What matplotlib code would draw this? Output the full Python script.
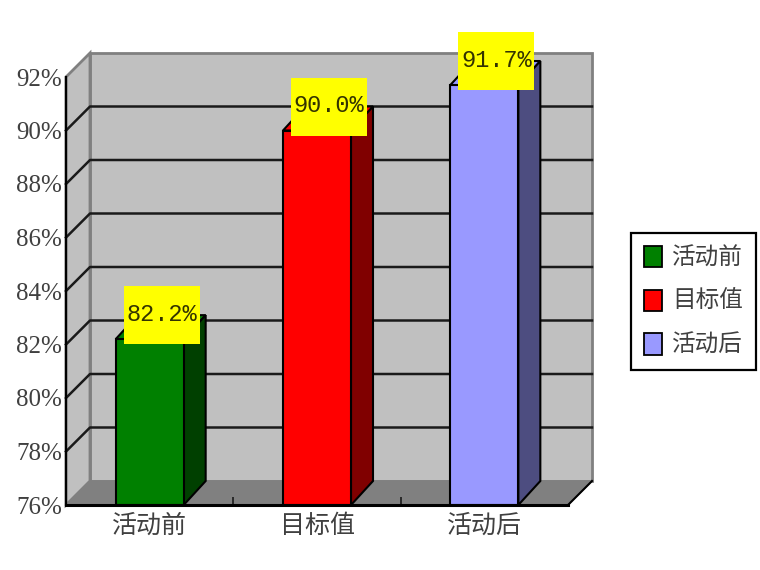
import matplotlib
matplotlib.use('Agg')
import matplotlib.pyplot as plt
from matplotlib.patches import Patch, Polygon, Rectangle

categories = ['活动前', '目标值', '活动后']
values = [82.2, 90.0, 91.7]
value_labels = ['82.2%', '90.0%', '91.7%']
y_ticks = [76, 78, 80, 82, 84, 86, 88, 90, 92]
front_colors = ['#008000', '#FF0000', '#9999FF']
side_colors = ['#004000', '#800000', '#4D4D80']

W, H = 760, 570
LEFT, RIGHT, TOP, BOTTOM = 66, 568, 77, 505
YMIN, YMAX = y_ticks[0], y_ticks[-1]

# one data unit in pixels
X_SCALE = (RIGHT - LEFT) / len(categories)
Y_SCALE = (BOTTOM - TOP) / (YMAX - YMIN)


def px_x(p):
    return p / X_SCALE


def px_y(p):
    return p / Y_SCALE


plt.rcParams['font.family'] = ['Liberation Serif', 'Noto Sans CJK SC']
fig = plt.figure(figsize=(W / 100, H / 100), dpi=100, facecolor='white')
ax = fig.add_axes([LEFT / W, 1 - BOTTOM / H, (RIGHT - LEFT) / W, (BOTTOM - TOP) / H])
ax.set_xlim(0, len(categories))
ax.set_ylim(YMIN, YMAX)
ax.patch.set_visible(False)

dx, dy = px_x(24), px_y(24)
xmax = len(categories)

# walls and floor
ax.add_patch(Polygon([(dx, YMIN + dy), (xmax + dx, YMIN + dy), (xmax + dx, YMAX + dy), (dx, YMAX + dy)],
                     fc='#C0C0C0', ec='#808080', lw=2, zorder=1, clip_on=False))
ax.add_patch(Polygon([(0, YMIN), (dx, YMIN + dy), (dx, YMAX + dy), (0, YMAX)],
                     fc='#C0C0C0', ec='#808080', lw=2, zorder=1, clip_on=False))
ax.add_patch(Polygon([(0, YMIN), (xmax, YMIN), (xmax + dx, YMIN + dy), (dx, YMIN + dy)],
                     fc='#808080', ec='#808080', lw=1, zorder=1.5, clip_on=False))
ax.plot([xmax, xmax + dx], [YMIN, YMIN + dy], color='black', lw=1.5, zorder=2, clip_on=False)

for t in y_ticks[1:-1]:
    ax.plot([0, dx, xmax + dx], [t, t + dy, t + dy], color='#1A1A1A', lw=1.8, zorder=2, clip_on=False)

# bars
centers = [i + 0.5 for i in range(len(categories))]
bar_w = px_x(68)
bx, by = px_x(22), px_y(24)
for c, v, fc, sc in zip(centers, values, front_colors, side_colors):
    r = c + bar_w / 2
    l = c - bar_w / 2
    ax.add_patch(Polygon([(l, v), (l + bx, v + by), (r + bx, v + by), (r, v)],
                         fc=fc, ec='black', lw=1.5, zorder=3, clip_on=False))
    ax.add_patch(Polygon([(r, YMIN), (r + bx, YMIN + by), (r + bx, v + by), (r, v)],
                         fc=sc, ec='black', lw=1.5, zorder=3, clip_on=False))
    ax.bar(c, v - YMIN, bottom=YMIN, width=bar_w, color=fc, edgecolor='black', linewidth=1.5, zorder=4)

# yellow value labels
box_w, box_h = px_x(76), px_y(58)
for c, v, lab in zip(centers, values, value_labels):
    x0 = c + px_x(12) - box_w / 2
    y0 = v - px_y(5)
    ax.add_patch(Rectangle((x0, y0), box_w, box_h, fc='#FFFF00', ec='none', zorder=5, clip_on=False))
    ax.text(x0 + box_w / 2, y0 + box_h / 2 + px_y(1), lab, ha='center', va='center', zorder=6,
            fontsize=17, color='#333300', family=['Liberation Mono', 'DejaVu Sans'])

# axes
for s in ['top', 'right']:
    ax.spines[s].set_visible(False)
ax.spines['left'].set_linewidth(1.6)
ax.spines['bottom'].set_linewidth(2.2)
ax.spines['left'].set_zorder(7)
ax.spines['bottom'].set_zorder(7)

ax.set_yticks(y_ticks)
ax.set_yticklabels([f'{t}%' for t in y_ticks], fontsize=18, color='#404040')
ax.tick_params(axis='y', length=0, pad=3)
ax.set_xticks(centers)
ax.set_xticklabels(categories, fontsize=18, color='#404040')
ax.tick_params(axis='x', which='major', length=0, pad=7)
ax.set_xticks(range(1, len(categories)), minor=True)
ax.tick_params(axis='x', which='minor', direction='in', length=6, width=1.2, color='#1A1A1A')

handles = [Patch(fc=fc, ec='black', lw=1.3) for fc in front_colors]
leg = fig.legend(handles, categories, loc='upper left', bbox_to_anchor=(631 / W, 1 - 233 / H),
                 borderaxespad=0, fontsize=17, fancybox=False, framealpha=1, edgecolor='black',
                 handlelength=0.75, handleheight=1.0, handletextpad=0.45, labelspacing=0.85,
                 borderpad=0.55, labelcolor='#404040')
leg.get_frame().set_linewidth(1.6)

fig.savefig('out.png', dpi=100)
